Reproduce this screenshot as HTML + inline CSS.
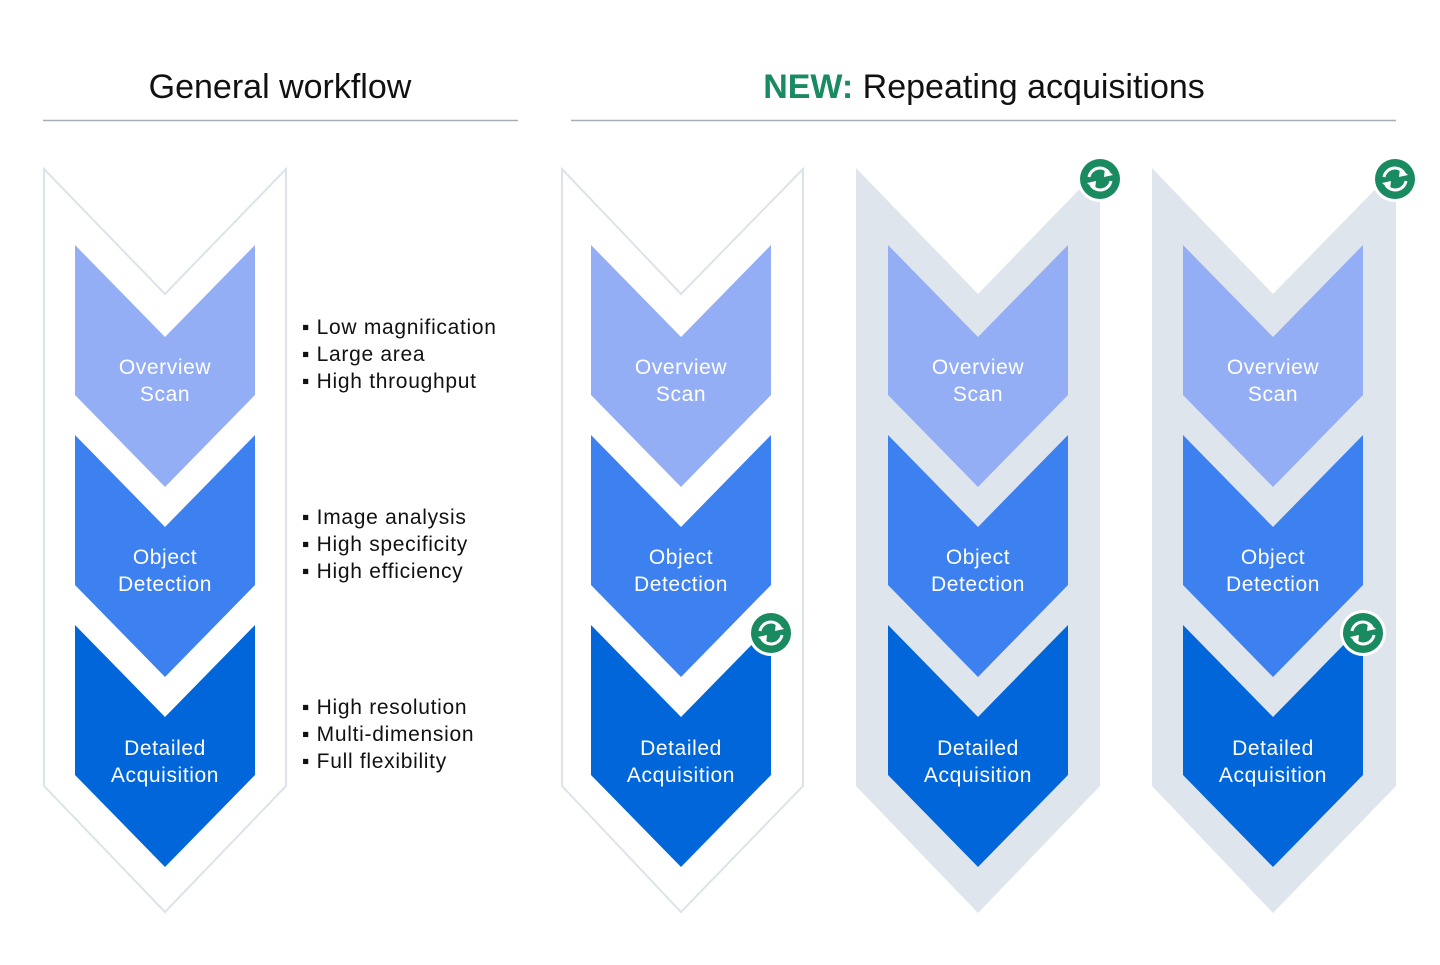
<!DOCTYPE html>
<html><head><meta charset="utf-8"><style>
html,body{margin:0;padding:0;background:#fff;}
svg text{font-family:"Liberation Sans",sans-serif;}
</style></head><body>
<svg width="1440" height="960" viewBox="0 0 1440 960" xmlns="http://www.w3.org/2000/svg">
<defs>
<g id="icon">
<circle r="23" fill="#fff"/>
<circle r="20" fill="#1a8a60"/>
<path d="M-11,-2 A11,11 0 0 1 9,-6" fill="none" stroke="#fff" stroke-width="3"/>
<path d="M5,-11 L13,-4 L4,-2 Z" fill="#fff"/>
<path d="M11,2 A11,11 0 0 1 -9,6" fill="none" stroke="#fff" stroke-width="3"/>
<path d="M-5,11 L-13,4 L-4,2 Z" fill="#fff"/>
</g>
</defs>
<text x="280" y="98" font-size="34" text-anchor="middle" fill="#111">General workflow</text>
<text x="984" y="98" font-size="34" text-anchor="middle" fill="#111"><tspan fill="#1a8a60" font-weight="bold">NEW:</tspan> Repeating acquisitions</text>
<line x1="43" y1="120.5" x2="518" y2="120.5" stroke="#a5afb9" stroke-width="1.5"/>
<line x1="571" y1="120.5" x2="1396" y2="120.5" stroke="#a5afb9" stroke-width="1.5"/>

<path d="M44,169 L165,294 L286,169 L286,786 L165,912 L44,786 Z" fill="#fff" stroke="#dde3ea" stroke-width="2"/>
<path d="M562,169 L681,294 L803,169 L803,786 L681,912 L562,786 Z" fill="#fff" stroke="#dde3ea" stroke-width="2"/>
<path d="M856,168 L978,294 L1100,168 L1100,786 L978,913 L856,786 Z" fill="#dfe5ec"/>
<path d="M1152,168 L1273,294 L1396,168 L1396,786 L1273,913 L1152,786 Z" fill="#dfe5ec"/>

<g font-size="21" fill="#fff" text-anchor="middle" letter-spacing="0.6">
<path d="M75,245 L165,337 L255,245 L255,395 L165,487 L75,395 Z" fill="#94aef5"/>
<path d="M75,435 L165,527 L255,435 L255,585 L165,677 L75,585 Z" fill="#3d80f0"/>
<path d="M75,625 L165,717 L255,625 L255,775 L165,867 L75,775 Z" fill="#0066d9"/>
<text x="165" y="374">Overview</text><text x="165" y="401">Scan</text>
<text x="165" y="564">Object</text><text x="165" y="591">Detection</text>
<text x="165" y="755">Detailed</text><text x="165" y="782">Acquisition</text>
<path d="M591,245 L681,337 L771,245 L771,395 L681,487 L591,395 Z" fill="#94aef5"/>
<path d="M591,435 L681,527 L771,435 L771,585 L681,677 L591,585 Z" fill="#3d80f0"/>
<path d="M591,625 L681,717 L771,625 L771,775 L681,867 L591,775 Z" fill="#0066d9"/>
<text x="681" y="374">Overview</text><text x="681" y="401">Scan</text>
<text x="681" y="564">Object</text><text x="681" y="591">Detection</text>
<text x="681" y="755">Detailed</text><text x="681" y="782">Acquisition</text>
<path d="M888,245 L978,337 L1068,245 L1068,395 L978,487 L888,395 Z" fill="#94aef5"/>
<path d="M888,435 L978,527 L1068,435 L1068,585 L978,677 L888,585 Z" fill="#3d80f0"/>
<path d="M888,625 L978,717 L1068,625 L1068,775 L978,867 L888,775 Z" fill="#0066d9"/>
<text x="978" y="374">Overview</text><text x="978" y="401">Scan</text>
<text x="978" y="564">Object</text><text x="978" y="591">Detection</text>
<text x="978" y="755">Detailed</text><text x="978" y="782">Acquisition</text>
<path d="M1183,245 L1273,337 L1363,245 L1363,395 L1273,487 L1183,395 Z" fill="#94aef5"/>
<path d="M1183,435 L1273,527 L1363,435 L1363,585 L1273,677 L1183,585 Z" fill="#3d80f0"/>
<path d="M1183,625 L1273,717 L1363,625 L1363,775 L1273,867 L1183,775 Z" fill="#0066d9"/>
<text x="1273" y="374">Overview</text><text x="1273" y="401">Scan</text>
<text x="1273" y="564">Object</text><text x="1273" y="591">Detection</text>
<text x="1273" y="755">Detailed</text><text x="1273" y="782">Acquisition</text>
</g>

<g font-size="21" fill="#111" letter-spacing="0.7">
<text x="302" y="334">▪ Low magnification</text>
<text x="302" y="361">▪ Large area</text>
<text x="302" y="388">▪ High throughput</text>
<text x="302" y="524">▪ Image analysis</text>
<text x="302" y="551">▪ High specificity</text>
<text x="302" y="578">▪ High efficiency</text>
<text x="302" y="714">▪ High resolution</text>
<text x="302" y="741">▪ Multi-dimension</text>
<text x="302" y="768">▪ Full flexibility</text>
</g>

<use href="#icon" x="1100" y="179"/>
<use href="#icon" x="1395" y="179"/>
<use href="#icon" x="771" y="633"/>
<use href="#icon" x="1363" y="633"/>
</svg>
</body></html>
